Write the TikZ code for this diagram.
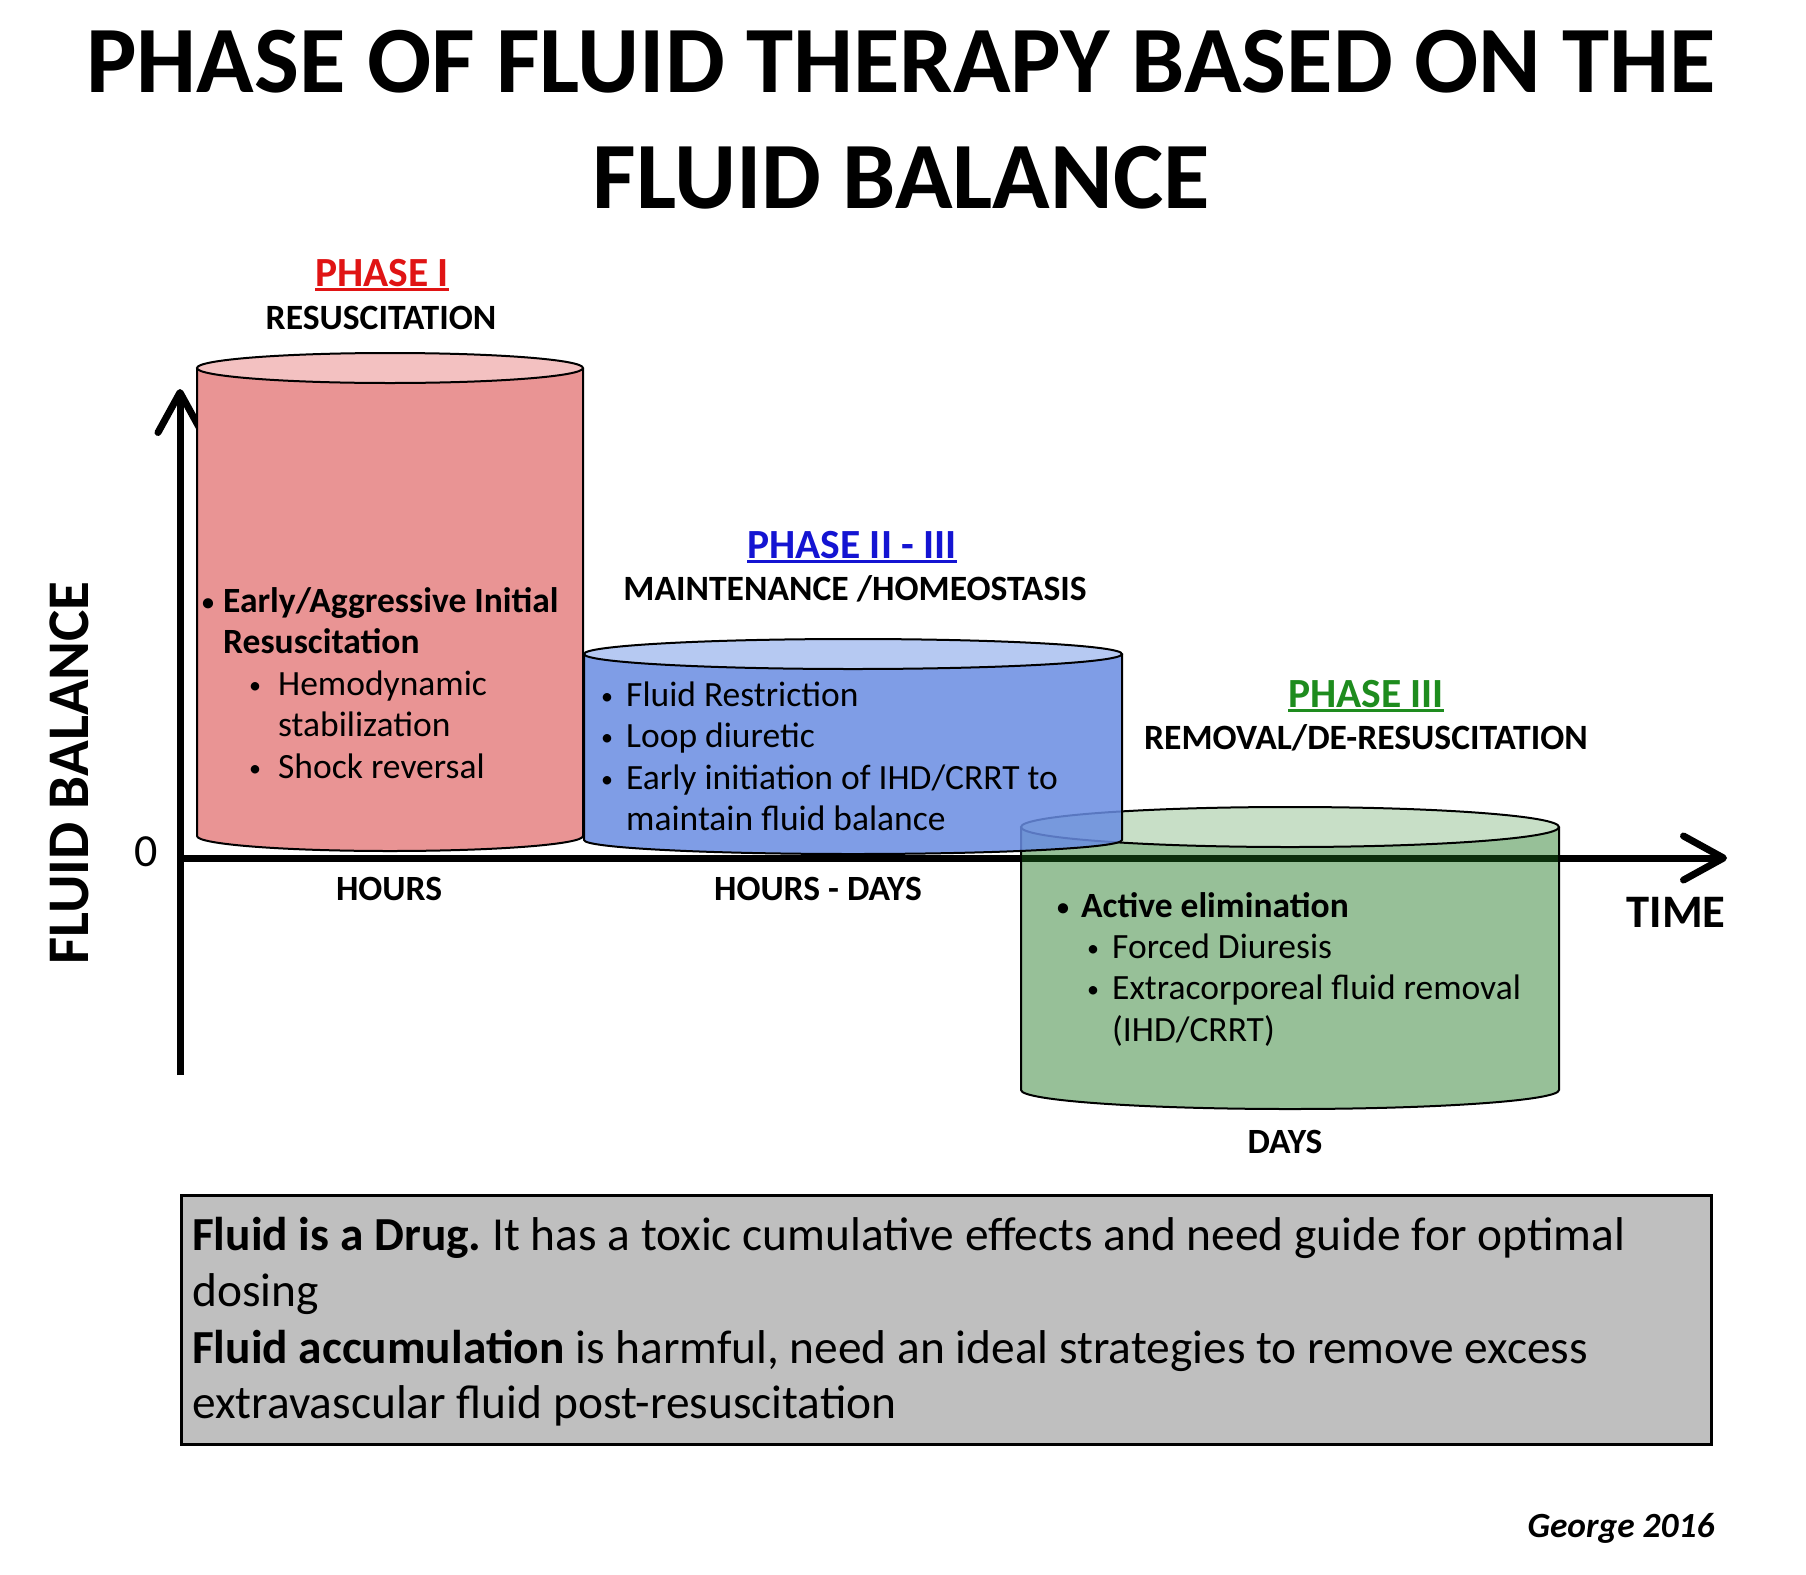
\documentclass[tikz,border=0pt]{standalone}
\usepackage{fontspec}
\setmainfont{Carlito}
\usetikzlibrary{arrows.meta}
\frenchspacing
\definecolor{redbody}{HTML}{E99494}
\definecolor{redtop}{HTML}{F3C1C1}
\definecolor{bluebody}{HTML}{698DE2}
\definecolor{bluetop}{HTML}{B6C9F2}
\definecolor{greenbody}{HTML}{97C098}
\definecolor{greentop}{HTML}{C8DFC7}
\definecolor{notegray}{HTML}{BFBFBF}
\definecolor{phred}{HTML}{E01414}
\definecolor{phblue}{HTML}{1414D2}
\definecolor{phgreen}{HTML}{1E8C1E}
\definecolor{axisgreen}{HTML}{0B2E0B}
\newcommand\phul[1]{\setbox0=\hbox{#1}\rlap{\rule[-5pt]{\wd0}{3pt}}\box0}
\newcommand\bdot[1]{\llap{\makebox[#1]{\raisebox{2pt}{\fontsize{24}{24}\selectfont •}}}}
\tikzset{
  ttl/.style={anchor=base, inner sep=0pt, font=\fontsize{95}{114}\selectfont\bfseries},
  phs/.style={anchor=base, inner sep=0pt, font=\fontsize{41.5}{50}\selectfont\bfseries},
  phsub/.style={anchor=base, inner sep=0pt, font=\fontsize{35.6}{43}\selectfont\bfseries},
  tmlbl/.style={anchor=base, inner sep=0pt, font=\fontsize{35.5}{43}\selectfont\bfseries},
  bltxt/.style={anchor=base west, inner sep=0pt, font=\fontsize{35.5}{43}\selectfont},
  blbold/.style={anchor=base west, inner sep=0pt, font=\fontsize{35.5}{43}\selectfont\bfseries},
  notetxt/.style={anchor=base west, inner sep=0pt, font=\fontsize{47.4}{57}\selectfont\frenchspacing},
  outl/.style={draw=black, line width=2pt},
  axisline/.style={line width=7pt, -{Straight Barb[length=40pt,width=44pt,round]}},
}
\begin{document}
\begin{tikzpicture}[x=1pt,y=-1pt]
\useasboundingbox (0,0) rectangle (1806,1574);
\fill[white] (0,0) rectangle (1806,1574);

% title
\node[ttl] (title1) at (901,92) {PHASE OF FLUID THERAPY BASED ON THE};
\node[ttl] (title2) at (901,208) {FLUID BALANCE};

% axes
\coordinate (ybot) at (180,1075);
\coordinate (ytop) at (180,389);
\coordinate (orig) at (180,858);
\coordinate (xend) at (1727,858);
\draw[axisline] (ybot) -- (ytop);
\draw[axisline] (orig) -- (xend);

% red cylinder
\fill[redbody] (197,368) -- (197,836) arc[start angle=180,end angle=0,x radius=193,y radius=15] -- (583,368) -- cycle;
\draw[outl] (197,368) -- (197,836) arc[start angle=180,end angle=0,x radius=193,y radius=15] -- (583,368);
\filldraw[outl, fill=redtop] (390,368) ellipse[x radius=193, y radius=15];

% green cylinder
\fill[greenbody] (1021,827) -- (1021,1090) arc[start angle=180,end angle=0,x radius=269,y radius=19] -- (1559,827) -- cycle;
\draw[outl] (1021,827) -- (1021,1090) arc[start angle=180,end angle=0,x radius=269,y radius=19] -- (1559,827);
\filldraw[outl, fill=greentop] (1290,827) ellipse[x radius=269, y radius=20];
\coordinate (gl) at (1022,858);
\coordinate (gr) at (1558,858);
\draw[axisgreen, line width=7pt] (gl) -- (gr);

% blue cylinder
\fill[bluebody, fill opacity=0.85] (584,654) -- (584,840) arc[start angle=180,end angle=0,x radius=269,y radius=14] -- (1122,654) -- cycle;
\draw[outl] (584,654) -- (584,840) arc[start angle=180,end angle=0,x radius=269,y radius=14] -- (1122,654);
\filldraw[outl, fill=bluetop] (853,654) ellipse[x radius=269, y radius=15];

% phase labels
\node[phs, text=phred] (p1) at (382,286) {\phul{PHASE I}};
\node[phsub] (p1s) at (381,329) {RESUSCITATION};
\node[phs, text=phblue] (p2) at (852,558) {\phul{PHASE II - III}};
\node[phsub] (p2s) at (855,600) {MAINTENANCE /HOMEOSTASIS};
\node[phs, text=phgreen] (p3) at (1366,707) {\phul{PHASE III}};
\node[phsub] (p3s) at (1366,749) {REMOVAL/DE-RESUSCITATION};

% red text
\node[blbold] (r1) at (223,612) {\bdot{30pt}Early/Aggressive Initial};
\node[blbold] (r2) at (223,653.5) {Resuscitation};
\node[bltxt] (r3) at (278,695) {\bdot{46pt}Hemodynamic};
\node[bltxt] (r4) at (278,736.5) {stabilization};
\node[bltxt] (r5) at (278,778) {\bdot{46pt}Shock reversal};

% blue text
\node[bltxt] (b1) at (626,706) {\bdot{38pt}Fluid Restriction};
\node[bltxt] (b2) at (626,747.5) {\bdot{38pt}Loop diuretic};
\node[bltxt] (b3) at (626,789) {\bdot{38pt}Early initiation of IHD/CRRT to};
\node[bltxt] (b4) at (626,830.5) {maintain fluid balance};

% green text
\node[blbold] (g1) at (1081,917) {\bdot{36pt}Active elimination};
\node[bltxt] (g2) at (1112,958) {\bdot{38pt}Forced Diuresis};
\node[bltxt] (g3) at (1112,999.5) {\bdot{38pt}Extracorporeal fluid removal};
\node[bltxt] (g4) at (1112,1041) {(IHD/CRRT)};

% axis labels
\node[anchor=base, inner sep=0pt, font=\fontsize{46}{55}\selectfont] (zero) at (146,866) {0};
\node[anchor=base, inner sep=0pt, rotate=90, font=\fontsize{59}{70}\selectfont\bfseries] (fb) at (88,773) {FLUID BALANCE};
\node[anchor=base, inner sep=0pt, font=\fontsize{46.6}{56}\selectfont\bfseries] (time) at (1676,927) {TIME};
\node[tmlbl] (h1) at (389,900) {HOURS};
\node[tmlbl] (h2) at (818,900) {HOURS - DAYS};
\node[tmlbl] (h3) at (1285,1153) {DAYS};

% note box
\node[draw=black, line width=2.5pt, fill=notegray, anchor=north west, minimum width=1530pt, minimum height=249pt, inner sep=0pt] (note) at (180,1194) {};
\node[notetxt] (n1) at (192,1250) {\textbf{Fluid is a Drug.} It has a toxic cumulative effects and need guide for optimal};
\node[notetxt] (n2) at (192,1306) {dosing};
\node[notetxt] (n3) at (192,1363) {\textbf{Fluid accumulation} is harmful, need an ideal strategies to remove excess};
\node[notetxt] (n4) at (192,1418) {extravascular fluid post-resuscitation};

\node[anchor=base, inner sep=0pt, font=\fontsize{35.4}{42}\selectfont\bfseries\itshape] (cite) at (1621,1537) {George 2016};
\end{tikzpicture}
\end{document}
